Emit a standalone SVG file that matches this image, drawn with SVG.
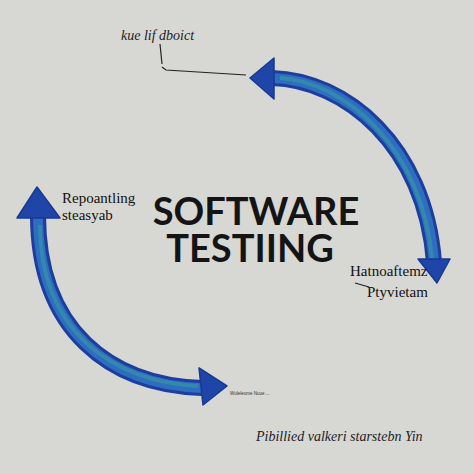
<svg xmlns="http://www.w3.org/2000/svg" width="474" height="474" viewBox="0 0 474 474">
<style>
.title{font-family:Lato,"Open Sans","DejaVu Sans",sans-serif;font-weight:700;font-size:38px;fill:#141414;text-anchor:middle}
.lbl{font-family:"Liberation Serif","DejaVu Serif",serif;font-size:15px;fill:#111}
.hand{font-family:"Liberation Serif","DejaVu Serif",serif;font-style:italic;font-size:14px;fill:#222}
.outer{fill:none;stroke:#1d3e9e;stroke-width:16;stroke-linecap:butt}
.inner{fill:none;stroke:#2d6ec0;stroke-width:10}
.core{fill:none;stroke:#3a9c9c;stroke-width:4;opacity:.55}
.head{fill:#1f45a8;stroke:#173a90;stroke-width:1.5;stroke-linejoin:round}
.thin{fill:none;stroke:#222;stroke-width:1.2}
</style>
<rect width="474" height="474" fill="#d7d7d4"/>
<g id="connectors">
  <g id="arrow-top">
    <path class="outer" d="M272 78 C345 80 425 145 434 262"/>
    <path class="inner" d="M272 78 C345 80 425 145 434 262"/>
    <path class="core" d="M280 78 C345 82 422 148 432 258"/>
    <polygon class="head" points="250,78 274,58 274,99"/>
    <polygon class="head" points="418,259 450,259 437,283" fill="#2a6fc8"/>
  </g>
  <g id="arrow-bottom">
    <path class="outer" d="M38 215 C38 330 110 385 202 388"/>
    <path class="inner" d="M38 215 C38 330 110 385 202 388"/>
    <path class="core" d="M40 225 C40 330 112 382 198 386"/>
    <polygon class="head" points="37,187 17,218 60,218"/>
    <polygon class="head" points="199,368 203,405 227,386"/>
  </g>
  <path class="thin" d="M160 44 L162 64 M162 67 L166 70 L246 75"/>
  <path class="thin" d="M355 283 L369 287" stroke-width="0.8"/>
</g>
<g id="title">
  <text class="title" x="256" y="225">SOFTWARE</text>
  <text class="title" x="250" y="262">TESTIING</text>
</g>
<g id="label-top"><text class="hand" x="121" y="40">kue lif dboict</text></g>
<g id="label-left">
  <text class="lbl" x="62" y="203">Repoantling</text>
  <text class="lbl" x="62" y="220">steasyab</text>
</g>
<g id="label-right">
  <text class="lbl" x="350" y="276" font-size="12.5">Hatnoaftemz</text>
  <text class="lbl" x="367" y="297" font-size="13">Ptyvietam</text>
</g>
<g id="label-tiny"><text x="230" y="395" font-family="Liberation Sans,sans-serif" font-size="4.5" fill="#333">Wuleleume Nuue ...</text></g>
<g id="label-bottom"><text class="hand" x="256" y="441" font-size="15">Pibillied valkeri starstebn Yin</text></g>
</svg>
